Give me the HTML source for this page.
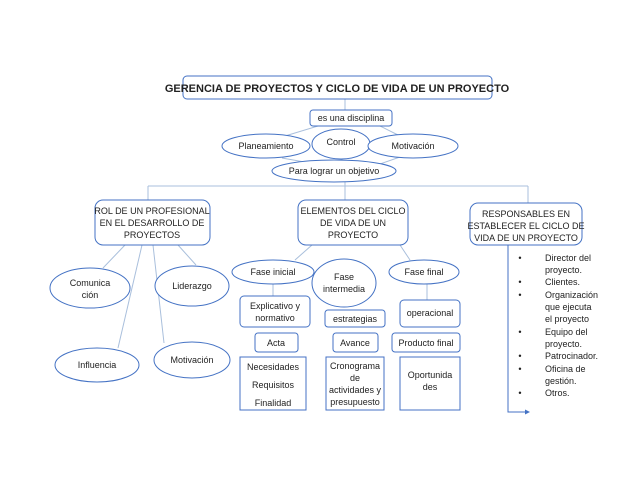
<!DOCTYPE html>
<html><head><meta charset="utf-8"><style>
html,body{margin:0;padding:0;background:#fff;}
svg text{font-family:"Liberation Sans",sans-serif;font-size:9px;fill:#222;text-anchor:middle;}
</style></head><body>
<svg width="638" height="493" viewBox="0 0 638 493" xmlns="http://www.w3.org/2000/svg">
<g stroke="#a9bfdc" stroke-width="1" fill="none">
<line x1="345" y1="99" x2="345" y2="110"/>
<line x1="318" y1="126" x2="285" y2="136"/>
<line x1="380" y1="126" x2="400" y2="136"/>
<line x1="282" y1="158" x2="310" y2="163"/>
<line x1="342" y1="159" x2="342" y2="160"/>
<line x1="400" y1="157" x2="380" y2="164"/>
<line x1="345" y1="182" x2="345" y2="200"/>
<line x1="148" y1="186" x2="528" y2="186"/>
<line x1="148" y1="186" x2="148" y2="200"/>
<line x1="528" y1="186" x2="528" y2="203"/>
<line x1="125" y1="245" x2="103" y2="268"/>
<line x1="142" y1="245" x2="118" y2="348"/>
<line x1="153" y1="245" x2="164" y2="343"/>
<line x1="178" y1="245" x2="196" y2="265"/>
<line x1="312" y1="245" x2="295" y2="260"/>
<line x1="400" y1="245" x2="410" y2="260"/>
<line x1="273" y1="284" x2="273" y2="296"/>
<line x1="427" y1="284" x2="427" y2="300"/>
</g>
<g stroke="#4472c4" stroke-width="1" fill="#fff">
<rect x="183" y="76" width="309" height="23" rx="4"/>
<rect x="310" y="110" width="82" height="16" rx="3"/>
<ellipse cx="266" cy="146" rx="44" ry="12"/>
<ellipse cx="341" cy="144" rx="29" ry="15"/>
<ellipse cx="413" cy="146" rx="45" ry="12"/>
<ellipse cx="334" cy="171" rx="62" ry="11"/>
<rect x="95" y="200" width="115" height="45" rx="8"/>
<rect x="298" y="200" width="110" height="45" rx="8"/>
<rect x="470" y="203" width="112" height="42" rx="8"/>
<ellipse cx="90" cy="288" rx="40" ry="20"/>
<ellipse cx="192" cy="286" rx="37" ry="20"/>
<ellipse cx="97" cy="365" rx="42" ry="17"/>
<ellipse cx="192" cy="360" rx="38" ry="18"/>
<ellipse cx="273" cy="272" rx="41" ry="12"/>
<ellipse cx="344" cy="283" rx="32" ry="24"/>
<ellipse cx="424" cy="272" rx="35" ry="12"/>
<rect x="240" y="296" width="70" height="31" rx="4"/>
<rect x="325" y="310" width="60" height="17" rx="3"/>
<rect x="400" y="300" width="60" height="27" rx="4"/>
<rect x="255" y="333" width="43" height="19" rx="3"/>
<rect x="333" y="333" width="45" height="19" rx="3"/>
<rect x="392" y="333" width="68" height="19" rx="3"/>
<rect x="240" y="357" width="66" height="53"/>
<rect x="326" y="357" width="58" height="53"/>
<rect x="400" y="357" width="60" height="53"/>
</g>
<polyline points="508,245 508,412 526,412" stroke="#4472c4" fill="none"/>
<polygon points="530,412 525,409.5 525,414.5" fill="#4472c4"/>
<text x="337" y="92" style="font-size:11px;font-weight:bold">GERENCIA DE PROYECTOS Y CICLO DE VIDA DE UN PROYECTO</text>
<text x="351" y="121">es una disciplina</text>
<text x="266" y="149">Planeamiento</text>
<text x="341" y="145">Control</text>
<text x="413" y="149">Motivación</text>
<text x="334" y="174">Para lograr un objetivo</text>
<text x="152" y="214">ROL DE UN PROFESIONAL</text>
<text x="152" y="226">EN EL DESARROLLO DE</text>
<text x="152" y="238">PROYECTOS</text>
<text x="353" y="214">ELEMENTOS DEL CICLO</text>
<text x="353" y="226">DE VIDA DE UN</text>
<text x="353" y="238">PROYECTO</text>
<text x="526" y="217">RESPONSABLES EN</text>
<text x="526" y="229">ESTABLECER EL CICLO DE</text>
<text x="526" y="241">VIDA DE UN PROYECTO</text>
<text x="90" y="286">Comunica</text>
<text x="90" y="298">ción</text>
<text x="192" y="289">Liderazgo</text>
<text x="97" y="368">Influencia</text>
<text x="192" y="363">Motivación</text>
<text x="273" y="275">Fase inicial</text>
<text x="344" y="280">Fase</text>
<text x="344" y="292">intermedia</text>
<text x="424" y="275">Fase final</text>
<text x="275" y="309">Explicativo y</text>
<text x="275" y="321">normativo</text>
<text x="355" y="322">estrategias</text>
<text x="430" y="316">operacional</text>
<text x="276" y="346">Acta</text>
<text x="355" y="346">Avance</text>
<text x="426" y="346">Producto final</text>
<text x="273" y="370">Necesidades</text>
<text x="273" y="388">Requisitos</text>
<text x="273" y="406">Finalidad</text>
<text x="355" y="369">Cronograma</text>
<text x="355" y="381">de</text>
<text x="355" y="393">actividades y</text>
<text x="355" y="405">presupuesto</text>
<text x="430" y="378">Oportunida</text>
<text x="430" y="390">des</text>
<g style="font-size:9px">
<text x="520" y="261">•</text><text x="545" y="261" style="text-anchor:start">Director del</text>
<text x="545" y="273" style="text-anchor:start">proyecto.</text>
<text x="520" y="285">•</text><text x="545" y="285" style="text-anchor:start">Clientes.</text>
<text x="520" y="298">•</text><text x="545" y="298" style="text-anchor:start">Organización</text>
<text x="545" y="310" style="text-anchor:start">que ejecuta</text>
<text x="545" y="322" style="text-anchor:start">el proyecto</text>
<text x="520" y="335">•</text><text x="545" y="335" style="text-anchor:start">Equipo del</text>
<text x="545" y="347" style="text-anchor:start">proyecto.</text>
<text x="520" y="359">•</text><text x="545" y="359" style="text-anchor:start">Patrocinador.</text>
<text x="520" y="372">•</text><text x="545" y="372" style="text-anchor:start">Oficina de</text>
<text x="545" y="384" style="text-anchor:start">gestión.</text>
<text x="520" y="396">•</text><text x="545" y="396" style="text-anchor:start">Otros.</text>
</g>
</svg>
</body></html>
